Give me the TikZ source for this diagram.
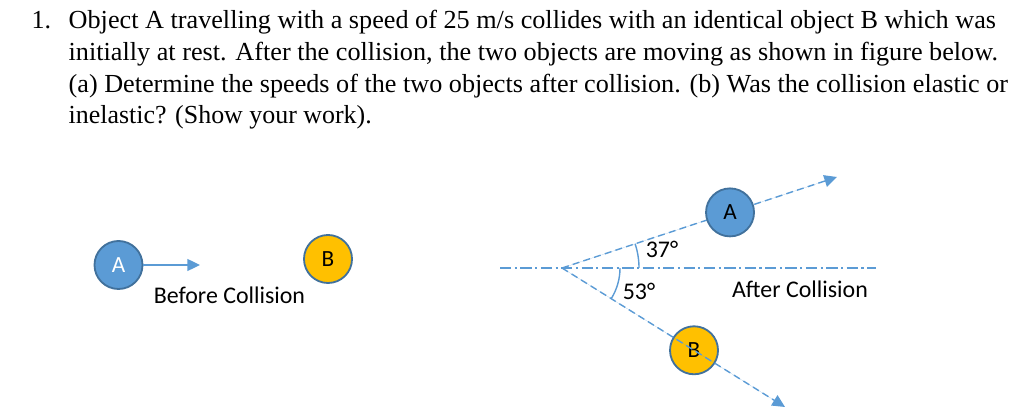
\documentclass[tikz,border=0pt]{standalone}
\usepackage{fontspec}
\usepackage{graphicx}
\setmainfont{Liberation Serif}
\newfontfamily\calibri{Carlito}
\usetikzlibrary{arrows.meta,positioning,calc}
\definecolor{ballblue}{HTML}{5B9BD5}
\definecolor{balledge}{HTML}{41719C}
\definecolor{ballgold}{HTML}{FFC000}

\begin{document}
\begin{tikzpicture}[x=0.025cm, y=0.025cm, line width=1pt, -{Triangle[width=8.5pt,length=9pt]},
  ball/.style = {circle, draw=balledge, line width=1.3pt, minimum size=1.2cm, inner sep=0pt, font=\calibri\fontsize{16.5}{18}\selectfont},
  ablue/.style = {ball, fill=ballblue},
  bgold/.style = {ball, fill=ballgold},
  path/.style = {draw=ballblue, fill=ballblue, dash pattern=on 5pt off 3pt},
  axis/.style = {draw=ballblue, -, line width=0.8pt, dash pattern=on 8pt off 2.5pt on 1.5pt off 2.5pt},
  caption/.style = {anchor=base, font=\calibri\fontsize{17}{19}\selectfont},
  line/.style = {anchor=base west, inner sep=0pt, font=\fontsize{18.5}{22}\selectfont}]
\useasboundingbox (0,0) rectangle (1024,420);

% question text
\node[line] (num) at (31,391) {1.};
\node[line] (l1) at (68,391) {\resizebox{23.175cm}{\height}{Object A travelling with a speed of 25 m/s collides with an identical object B which was}};
\node[line] (l2) at (68,359) {\resizebox{23.225cm}{\height}{initially at rest. After the collision, the two objects are moving as shown in figure below.}};
\node[line] (l3) at (68,327) {\resizebox{23.475cm}{\height}{(a) Determine the speeds of the two objects after collision. (b) Was the collision elastic or}};
\node[line] (l4) at (68,296) {\resizebox{7.575cm}{\height}{inelastic? (Show your work).}};

% before collision
\node[ablue, text=white] (A) at (118.5,155) {A};
\coordinate (Aend) at (200,155);
\node[bgold] (B) at (328,161) {B};
\node[caption] (before) at (229.5,116) {Before Collision};
\draw[ballblue, fill=ballblue] (A) -- (Aend);

% after collision
\coordinate (O) at (562,152);
\coordinate (hl) at (500,152);
\coordinate (hr) at (876,152);
\coordinate (tA) at (837,243);
\coordinate (tB) at (785,13);
\draw[axis] (hl) -- (hr);
\draw[path] (O) -- (tA);
\node[ablue] (A2) at ($(O)!0.611!(tA)$) {A};
\node[bgold] (B2) at ($(O)!0.592!(tB)$) {B};
\draw[path] (O) -- (tB);
\draw[ballblue, -] (O) ++(0:77) arc[start angle=0, end angle=18.3, radius=77];
\draw[ballblue, -] (O) ++(0:58) arc[start angle=0, end angle=-31.9, radius=58];
\node[caption] (up) at (662,162) {37°};
\node[caption] (down) at (639,120) {53°};
\node[caption] (after) at (800,122) {After Collision};
\end{tikzpicture}
\end{document}
